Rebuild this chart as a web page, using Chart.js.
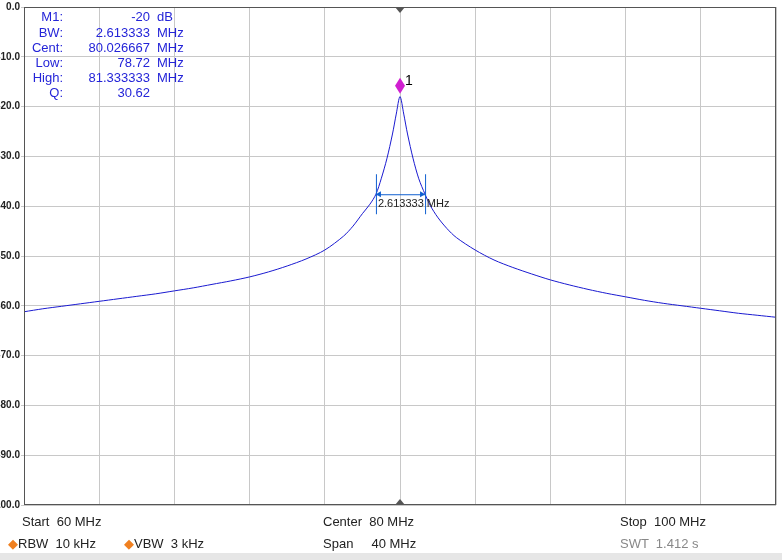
<!DOCTYPE html>
<html><head><meta charset="utf-8">
<script src="https://cdn.jsdelivr.net/npm/chart.js@4"></script>
<style>
body{margin:0;background:#fff;font-family:"Liberation Sans",Arial,sans-serif;}
#wrap{position:relative;width:782px;height:560px;overflow:hidden}
canvas{position:absolute;left:0;top:0}
.t{position:absolute;font-size:13px;color:#222;white-space:pre}
.info{position:absolute;font-size:13px;color:#2424d8;line-height:15px}
.info div{position:absolute;white-space:pre}
.l{width:63px;text-align:right;left:0}
.v{width:150px;text-align:right;left:0}
.u{left:157px}
#strip{position:absolute;left:0;top:553px;width:782px;height:7px;background:#e6e6e6}
.dot{color:#f08020}
</style></head><body>
<div id="wrap">
<canvas id="c" width="782" height="560"></canvas>
<div class="info" style="left:0;top:9px">
<div class="l" style="top:0">M1:</div><div class="v" style="top:0">-20</div><div class="u" style="top:0">dB</div>
<div class="l" style="top:16px">BW:</div><div class="v" style="top:16px">2.613333</div><div class="u" style="top:16px">MHz</div>
<div class="l" style="top:31px">Cent:</div><div class="v" style="top:31px">80.026667</div><div class="u" style="top:31px">MHz</div>
<div class="l" style="top:46px">Low:</div><div class="v" style="top:46px">78.72</div><div class="u" style="top:46px">MHz</div>
<div class="l" style="top:61px">High:</div><div class="v" style="top:61px">81.333333</div><div class="u" style="top:61px">MHz</div>
<div class="l" style="top:76px">Q:</div><div class="v" style="top:76px">30.62</div>
</div>
<div class="t" style="left:22px;top:514px">Start  60 MHz</div>
<div class="t" style="left:323px;top:514px">Center  80 MHz</div>
<div class="t" style="left:620px;top:514px">Stop  100 MHz</div>
<div class="t" style="left:8px;top:536px"><span class="dot">◆</span>RBW  10 kHz</div>
<div class="t" style="left:124px;top:536px"><span class="dot">◆</span>VBW  3 kHz</div>
<div class="t" style="left:323px;top:536px">Span     40 MHz</div>
<div class="t" style="left:620px;top:536px;color:#888">SWT  1.412 s</div>
<div id="strip"></div>
</div>
<script>
const freqs = [60,61,62,63,64,65,66,67,68,69,70,71,72,73,74,75,76,77,77.5,78,78.4,78.72,79,79.3,79.6,79.8,80,80.2,80.4,80.7,81,81.333,81.6,82,82.5,83,84,85,86,87,88,89,90,91,92,93,94,95,96,97,98,99,100];
const levels = [-61.2,-60.6,-60.1,-59.6,-59.1,-58.6,-58.1,-57.6,-57.0,-56.4,-55.7,-55.0,-54.2,-53.2,-52.0,-50.6,-48.8,-46.0,-44.0,-41.5,-39.6,-37.6,-34.5,-30.5,-25.5,-21.5,-18.0,-21.5,-25.5,-30.5,-34.5,-37.6,-39.8,-42.2,-44.5,-46.3,-48.8,-50.8,-52.3,-53.6,-54.8,-55.8,-56.7,-57.5,-58.2,-58.9,-59.5,-60.0,-60.5,-61.0,-61.5,-61.9,-62.3];
const markerFreq = 80.0, markerLevel = -15.8;
const bwLow = 78.72, bwHigh = 81.333333, bwLevel = -37.6, bwText = "2.613333 MHz";
const yTicks = [0,-10,-20,-30,-40,-50,-60,-70,-80,-90,-100];

const deco = {id:'deco', afterDraw(ch){
  const c=ch.ctx, x=ch.scales.x, y=ch.scales.y, a=ch.chartArea;
  c.save();
  c.strokeStyle='#555';c.lineWidth=1;c.strokeRect(a.left+0.5,a.top+0.5,a.width-1,a.height-1);
  const cx=x.getPixelForValue(80);
  c.fillStyle='#555';
  c.beginPath();c.moveTo(cx-5,a.top);c.lineTo(cx+5,a.top);c.lineTo(cx,a.top+6);c.fill();
  c.beginPath();c.moveTo(cx-5,a.bottom);c.lineTo(cx+5,a.bottom);c.lineTo(cx,a.bottom-6);c.fill();
  const mx=x.getPixelForValue(markerFreq), my=y.getPixelForValue(markerLevel);
  c.fillStyle='#d020d0';c.beginPath();c.moveTo(mx,my-8);c.lineTo(mx+5,my);c.lineTo(mx,my+8);c.lineTo(mx-5,my);c.fill();
  c.fillStyle='#000';c.font='14px "Liberation Sans"';c.fillText('1',mx+5,my-1);
  const lx=x.getPixelForValue(bwLow), hx=x.getPixelForValue(bwHigh), by=y.getPixelForValue(bwLevel);
  c.strokeStyle='#1060d0';c.fillStyle='#1060d0';
  c.beginPath();c.moveTo(lx+0.5,by-20);c.lineTo(lx+0.5,by+20);c.moveTo(hx+0.5,by-20);c.lineTo(hx+0.5,by+20);
  c.moveTo(lx,by+0.5);c.lineTo(hx,by+0.5);c.stroke();
  c.beginPath();c.moveTo(lx,by);c.lineTo(lx+5,by-3);c.lineTo(lx+5,by+3);c.fill();
  c.beginPath();c.moveTo(hx,by);c.lineTo(hx-5,by-3);c.lineTo(hx-5,by+3);c.fill();
  c.fillStyle='#222';c.font='11px "Liberation Sans"';c.fillText(bwText,lx+2,by+13);
  c.restore();
}};
new Chart(document.getElementById('c'),{
  type:'line',
  data:{datasets:[{data:freqs.map((f,i)=>({x:f,y:levels[i]})),borderColor:'#1a1ad0',borderWidth:1,pointRadius:0,tension:0.3}]},
  options:{responsive:false,animation:false,
    layout:{padding:{top:5,right:6,bottom:55,left:0}},
    plugins:{legend:{display:false},tooltip:{enabled:false}},
    scales:{
      x:{type:'linear',min:60,max:100,ticks:{display:false,stepSize:4},grid:{color:'#c8c8c8',drawTicks:false},border:{display:false}},
      y:{min:-100,max:0,afterFit(s){s.width=24;},afterBuildTicks(s){s.ticks=yTicks.map(v=>({value:v}));},
        ticks:{padding:1,font:{size:10,weight:'bold',family:'Liberation Sans'},color:'#222',callback:v=>v.toFixed(1)},
        grid:{color:'#c8c8c8',drawTicks:true,tickLength:3},border:{display:false}}
    }},
  plugins:[deco]
});
</script></body></html>
